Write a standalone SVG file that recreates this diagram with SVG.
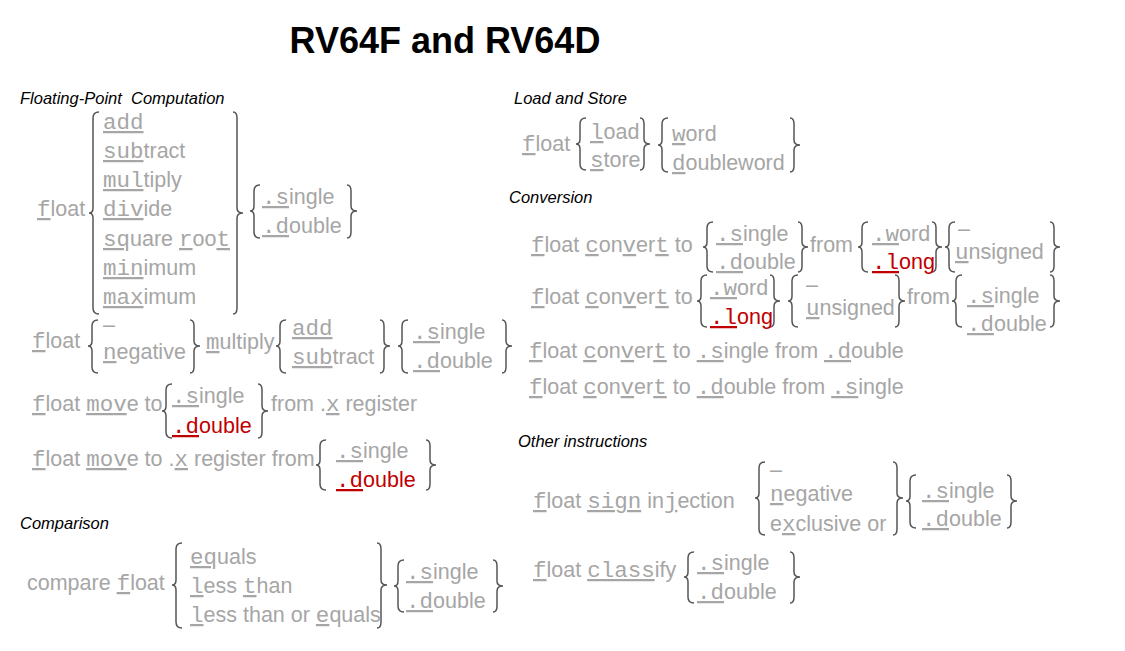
<svg xmlns="http://www.w3.org/2000/svg" width="1125" height="651" viewBox="0 0 1125 651">
<style>
text{font-family:"Liberation Sans",Arial,sans-serif;font-size:21.5px;fill:#a6a6a6}
.m{font-family:"Liberation Mono","Courier New",monospace;text-decoration:underline;font-size:22.5px}
.r{fill:#c00000}
.h{fill:#000;font-style:italic;font-size:16.5px;font-weight:normal}
.t{fill:#000;font-weight:bold;font-size:36px}
.b path{fill:none;stroke:#555;stroke-width:1.5}
</style>
<rect width="1125" height="651" fill="#fff"/>
<text class="t" x="445" y="53" text-anchor="middle">RV64F and RV64D</text>
<g id="headings">
<text class="h" x="20" y="104" xml:space="preserve">Floating-Point  Computation</text>
<text class="h" x="514" y="104">Load and Store</text>
<text class="h" x="509" y="203">Conversion</text>
<text class="h" x="518" y="447">Other instructions</text>
<text class="h" x="20" y="529">Comparison</text>
</g>
<g id="braces" class="b">
<path d="M99,112 Q93,112 93,118 L93,208 Q93,213 89,213 Q93,213 93,218 L93,308 Q93,314 99,314"/>
<path d="M233,112 Q237,112 237,118 L237,208 Q237,213 243,213 Q237,213 237,218 L237,308 Q237,314 233,314"/>
<path d="M260,185 Q254,185 254,191 L254,206 Q254,211 250,211 Q254,211 254,216 L254,232 Q254,238 260,238"/>
<path d="M347,185 Q351,185 351,191 L351,206 Q351,211 357,211 Q351,211 351,216 L351,232 Q351,238 347,238"/>
<path d="M98,320 Q92,320 92,326 L92,341 Q92,346 88,346 Q92,346 92,351 L92,367 Q92,373 98,373"/>
<path d="M190,320 Q194,320 194,326 L194,341 Q194,346 200,346 Q194,346 194,351 L194,367 Q194,373 190,373"/>
<path d="M286,320 Q280,320 280,326 L280,341 Q280,346 276,346 Q280,346 280,351 L280,367 Q280,373 286,373"/>
<path d="M380,320 Q384,320 384,326 L384,341 Q384,346 390,346 Q384,346 384,351 L384,367 Q384,373 380,373"/>
<path d="M408,320 Q402,320 402,326 L402,341 Q402,346 398,346 Q402,346 402,351 L402,367 Q402,373 408,373"/>
<path d="M502,320 Q506,320 506,326 L506,341 Q506,346 512,346 Q506,346 506,351 L506,367 Q506,373 502,373"/>
<path d="M172,384 Q166,384 166,390 L166,406 Q166,411 162,411 Q166,411 166,416 L166,432 Q166,438 172,438"/>
<path d="M258,384 Q262,384 262,390 L262,406 Q262,411 268,411 Q262,411 262,416 L262,432 Q262,438 258,438"/>
<path d="M326,440 Q320,440 320,446 L320,460 Q320,465 316,465 Q320,465 320,470 L320,484 Q320,490 326,490"/>
<path d="M426,440 Q430,440 430,446 L430,460 Q430,465 436,465 Q430,465 430,470 L430,484 Q430,490 426,490"/>
<path d="M182,543 Q176,543 176,549 L176,580 Q176,585 172,585 Q176,585 176,590 L176,622 Q176,628 182,628"/>
<path d="M377,543 Q381,543 381,549 L381,580 Q381,585 387,585 Q381,585 381,590 L381,622 Q381,628 377,628"/>
<path d="M404,560 Q398,560 398,566 L398,581 Q398,586 394,586 Q398,586 398,591 L398,606 Q398,612 404,612"/>
<path d="M493,560 Q497,560 497,566 L497,581 Q497,586 503,586 Q497,586 497,591 L497,606 Q497,612 493,612"/>
<path d="M586,118 Q580,118 580,124 L580,139 Q580,144 576,144 Q580,144 580,149 L580,164 Q580,170 586,170"/>
<path d="M640,118 Q644,118 644,124 L644,139 Q644,144 650,144 Q644,144 644,149 L644,164 Q644,170 640,170"/>
<path d="M668,118 Q662,118 662,124 L662,140 Q662,145 658,145 Q662,145 662,150 L662,166 Q662,172 668,172"/>
<path d="M790,118 Q794,118 794,124 L794,140 Q794,145 800,145 Q794,145 794,150 L794,166 Q794,172 790,172"/>
<path d="M713,222 Q707,222 707,228 L707,242 Q707,247 703,247 Q707,247 707,252 L707,266 Q707,272 713,272"/>
<path d="M798,222 Q802,222 802,228 L802,242 Q802,247 808,247 Q802,247 802,252 L802,266 Q802,272 798,272"/>
<path d="M868,222 Q862,222 862,228 L862,242 Q862,247 858,247 Q862,247 862,252 L862,266 Q862,272 868,272"/>
<path d="M932,222 Q936,222 936,228 L936,242 Q936,247 942,247 Q936,247 936,252 L936,266 Q936,272 932,272"/>
<path d="M955,222 Q949,222 949,228 L949,242 Q949,247 945,247 Q949,247 949,252 L949,266 Q949,272 955,272"/>
<path d="M1050,222 Q1054,222 1054,228 L1054,242 Q1054,247 1060,247 Q1054,247 1054,252 L1054,266 Q1054,272 1050,272"/>
<path d="M707,275 Q701,275 701,281 L701,296 Q701,301 697,301 Q701,301 701,306 L701,321 Q701,327 707,327"/>
<path d="M770,275 Q774,275 774,281 L774,296 Q774,301 780,301 Q774,301 774,306 L774,321 Q774,327 770,327"/>
<path d="M798,275 Q792,275 792,281 L792,296 Q792,301 788,301 Q792,301 792,306 L792,321 Q792,327 798,327"/>
<path d="M895,275 Q899,275 899,281 L899,296 Q899,301 905,301 Q899,301 899,306 L899,321 Q899,327 895,327"/>
<path d="M962,275 Q956,275 956,281 L956,296 Q956,301 952,301 Q956,301 956,306 L956,321 Q956,327 962,327"/>
<path d="M1050,275 Q1054,275 1054,281 L1054,296 Q1054,301 1060,301 Q1054,301 1054,306 L1054,321 Q1054,327 1050,327"/>
<path d="M765,462 Q759,462 759,468 L759,493 Q759,498 755,498 Q759,498 759,503 L759,529 Q759,535 765,535"/>
<path d="M893,462 Q897,462 897,468 L897,493 Q897,498 903,498 Q897,498 897,503 L897,529 Q897,535 893,535"/>
<path d="M916,475 Q910,475 910,481 L910,496 Q910,501 906,501 Q910,501 910,506 L910,522 Q910,528 916,528"/>
<path d="M1007,475 Q1011,475 1011,481 L1011,496 Q1011,501 1017,501 Q1011,501 1011,506 L1011,522 Q1011,528 1007,528"/>
<path d="M694,552 Q688,552 688,558 L688,572 Q688,577 684,577 Q688,577 688,582 L688,597 Q688,603 694,603"/>
<path d="M790,552 Q794,552 794,558 L794,572 Q794,577 800,577 Q794,577 794,582 L794,597 Q794,603 790,603"/>
</g>
<g id="fp-computation">
<text x="37" y="216"><tspan class="m">f</tspan>loat</text>
<text x="103" y="129"><tspan class="m">add</tspan></text>
<text x="103" y="158"><tspan class="m">sub</tspan>tract</text>
<text x="103" y="187"><tspan class="m">mul</tspan>tiply</text>
<text x="103" y="216"><tspan class="m">div</tspan>ide</text>
<text x="103" y="246"><tspan class="m">sq</tspan>uare <tspan class="m">r</tspan>oo<tspan class="m">t</tspan></text>
<text x="103" y="275"><tspan class="m">min</tspan>imum</text>
<text x="103" y="304"><tspan class="m">max</tspan>imum</text>
<text x="262" y="204"><tspan class="m">.s</tspan>ingle</text>
<text x="262" y="233"><tspan class="m">.d</tspan>ouble</text>
</g>
<g id="fp-fused">
<text x="32" y="348"><tspan class="m">f</tspan>loat</text>
<text x="103" y="332">–</text>
<text x="103" y="359"><tspan class="m">n</tspan>egative</text>
<text x="206" y="349"><tspan class="m">m</tspan>ultiply</text>
<text x="292" y="335"><tspan class="m">add</tspan></text>
<text x="292" y="364"><tspan class="m">sub</tspan>tract</text>
<text x="413" y="339"><tspan class="m">.s</tspan>ingle</text>
<text x="413" y="368"><tspan class="m">.d</tspan>ouble</text>
</g>
<g id="fp-move">
<text x="32" y="411"><tspan class="m">f</tspan>loat <tspan class="m">mo</tspan><tspan class="m">v</tspan>e to</text>
<text x="172" y="403"><tspan class="m">.s</tspan>ingle</text>
<text x="172" y="433" class="r"><tspan class="m">.d</tspan>ouble</text>
<text x="271" y="411">from .<tspan class="m">x</tspan> register</text>
<text x="32" y="466"><tspan class="m">f</tspan>loat <tspan class="m">mo</tspan><tspan class="m">v</tspan>e to .<tspan class="m">x</tspan> register from</text>
<text x="336" y="458"><tspan class="m">.s</tspan>ingle</text>
<text x="336" y="487" class="r"><tspan class="m">.d</tspan>ouble</text>
</g>
<g id="compare">
<text x="27" y="590">compare <tspan class="m">f</tspan>loat</text>
<text x="190" y="564"><tspan class="m">eq</tspan>uals</text>
<text x="190" y="593"><tspan class="m">l</tspan>ess <tspan class="m">t</tspan>han</text>
<text x="190" y="622"><tspan class="m">l</tspan>ess than or <tspan class="m">e</tspan>quals</text>
<text x="406" y="579"><tspan class="m">.s</tspan>ingle</text>
<text x="406" y="608"><tspan class="m">.d</tspan>ouble</text>
</g>
<g id="load-store">
<text x="522" y="151"><tspan class="m">f</tspan>loat</text>
<text x="590" y="139"><tspan class="m">l</tspan>oad</text>
<text x="590" y="167"><tspan class="m">s</tspan>tore</text>
<text x="672" y="141"><tspan class="m">w</tspan>ord</text>
<text x="672" y="170"><tspan class="m">d</tspan>oubleword</text>
</g>
<g id="conversion">
<text x="531" y="252"><tspan class="m">f</tspan>loat <tspan class="m">c</tspan>on<tspan class="m">v</tspan>er<tspan class="m">t</tspan> to</text>
<text x="716" y="241"><tspan class="m">.s</tspan>ingle</text>
<text x="716" y="269"><tspan class="m">.d</tspan>ouble</text>
<text x="810" y="252">from</text>
<text x="872" y="241"><tspan class="m">.w</tspan>ord</text>
<text x="872" y="269" class="r"><tspan class="m">.l</tspan>ong</text>
<text x="958" y="236">–</text>
<text x="955" y="259"><tspan class="m">u</tspan>nsigned</text>
<text x="531" y="304"><tspan class="m">f</tspan>loat <tspan class="m">c</tspan>on<tspan class="m">v</tspan>er<tspan class="m">t</tspan> to</text>
<text x="710" y="295"><tspan class="m">.w</tspan>ord</text>
<text x="710" y="324" class="r"><tspan class="m">.l</tspan>ong</text>
<text x="806" y="292">–</text>
<text x="806" y="315"><tspan class="m">u</tspan>nsigned</text>
<text x="907" y="304">from</text>
<text x="967" y="303"><tspan class="m">.s</tspan>ingle</text>
<text x="967" y="331"><tspan class="m">.d</tspan>ouble</text>
<text x="529" y="358"><tspan class="m">f</tspan>loat <tspan class="m">c</tspan>on<tspan class="m">v</tspan>er<tspan class="m">t</tspan> to <tspan class="m">.s</tspan>ingle from <tspan class="m">.d</tspan>ouble</text>
<text x="529" y="394"><tspan class="m">f</tspan>loat <tspan class="m">c</tspan>on<tspan class="m">v</tspan>er<tspan class="m">t</tspan> to <tspan class="m">.d</tspan>ouble from <tspan class="m">.s</tspan>ingle</text>
</g>
<g id="other">
<text x="533" y="508"><tspan class="m">f</tspan>loat <tspan class="m">sign</tspan> in<tspan class="m">j</tspan>ection</text>
<text x="770" y="477">–</text>
<text x="770" y="501"><tspan class="m">n</tspan>egative</text>
<text x="770" y="531">e<tspan class="m">x</tspan>clusive or</text>
<text x="922" y="498"><tspan class="m">.s</tspan>ingle</text>
<text x="922" y="526"><tspan class="m">.d</tspan>ouble</text>
<text x="533" y="577"><tspan class="m">f</tspan>loat <tspan class="m">class</tspan>ify</text>
<text x="697" y="570"><tspan class="m">.s</tspan>ingle</text>
<text x="697" y="599"><tspan class="m">.d</tspan>ouble</text>
</g>
</svg>
